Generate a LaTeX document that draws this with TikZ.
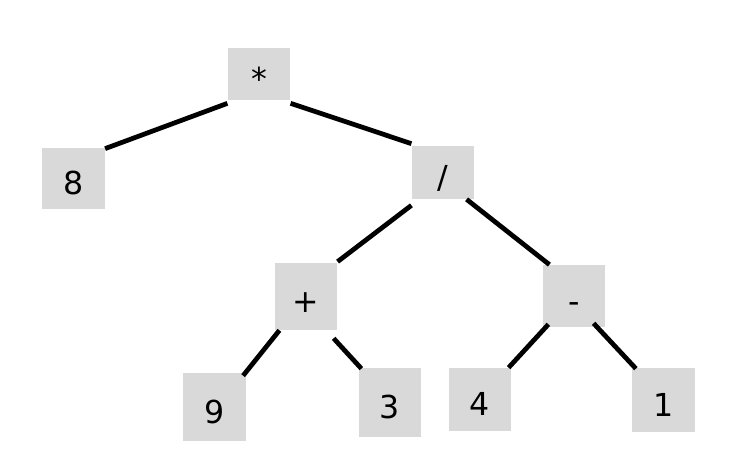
\documentclass[tikz,border=0pt]{standalone}
\usepackage{fontspec}
\setmainfont{DejaVu Sans}
\usepackage{tikz}
\definecolor{boxgray}{HTML}{D9D9D9}
\tikzset{
	opbox/.style={shape=rectangle, fill=boxgray, minimum width=1.25cm, text height=0.66cm, text depth=0pt, inner sep=0pt, font=\fontsize{18}{20}\selectfont},
	edge/.style={line width=2.7pt}
}

\begin{document}
\begin{tikzpicture}
			\useasboundingbox (0, 0) rectangle (14.74, 9.3);
			% Nodes of the tree:
			\node[opbox, minimum height=1.04cm](times) at (5.18, 7.82){*};
			\node[opbox, minimum height=1.22cm](eight) at (1.47, 5.73){8};
			\node[opbox, minimum height=1.06cm](divide) at (8.86, 5.85){/};
			\node[opbox, minimum height=1.34cm](plus) at (6.12, 3.37){+};
			\node[opbox, minimum height=1.24cm](minus) at (11.48, 3.38){-};
			\node[opbox, minimum height=1.36cm](nine) at (4.29, 1.16){9};
			\node[opbox, minimum height=1.38cm](three) at (7.80, 1.25){3};
			\node[opbox, minimum height=1.26cm](four) at (9.60, 1.31){4};
			\node[opbox, minimum height=1.28cm](one) at (13.27, 1.30){1};
			% Edges:
			\draw[edge] ([yshift=-0.06cm]times.south west) -- ([yshift=-0.02cm]eight.north east);
			\draw[edge] ([yshift=-0.06cm]times.south east) -- ([yshift=0.04cm]divide.north west);
			\draw[edge] ([yshift=-0.12cm]divide.south west) -- ([yshift=0.02cm]plus.north east);
			\draw[edge] ([xshift=-0.16cm]divide.south east) -- ([xshift=0.14cm]minus.north west);
			\draw[edge] ([xshift=0.1cm]plus.south west) -- ([shift={(-0.06,-0.06)}]nine.north east);
			\draw[edge] ([shift={(-0.08,-0.16)}]plus.south east) -- ([shift={(0.06,-0.02)}]three.north west);
			\draw[edge] ([shift={(0.12,0.06)}]minus.south west) -- ([xshift=-0.06cm]four.north east);
			\draw[edge] ([shift={(-0.24,0.08)}]minus.south east) -- ([shift={(0.08,-0.02)}]one.north west);
		\end{tikzpicture}
\end{document}
